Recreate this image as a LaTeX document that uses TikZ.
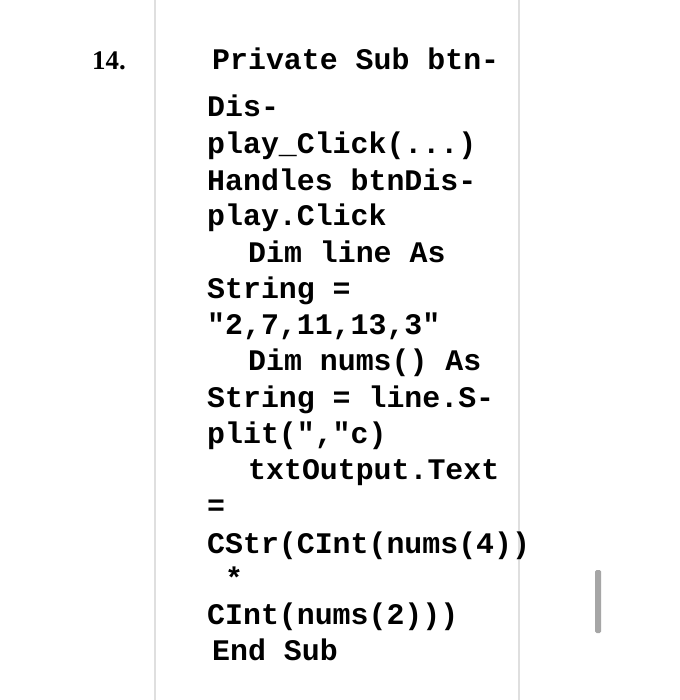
\documentclass[tikz,border=0pt]{standalone}
\usepackage{fontspec}
\setmonofont{Liberation Mono}
\setmainfont{Liberation Serif}
\begin{document}
\begin{tikzpicture}[x=1bp,y=-1bp,
  code/.style={anchor=base west,inner sep=0pt,font=\fontsize{30}{30}\selectfont\ttfamily\bfseries}]
\useasboundingbox (0,0) rectangle (680,700);
\fill[white] (0,0) rectangle (680,700);
\draw[gray!25,line width=1.5bp] (155,0) -- (155,700);
\draw[gray!25,line width=1.5bp] (519,0) -- (519,700);
\fill[gray!70,rounded corners=1.5bp] (595,570) rectangle (601,633);
\node[anchor=base west,inner sep=0pt,font=\fontsize{27}{27}\selectfont\bfseries] (n) at (92,70) {14.};
\node[code] (l1) at (212,70) {Private Sub btn-};
\node[code] (l2) at (207,117) {Dis-};
\node[code] (l3) at (207,153) {play\_Click(...)};
\node[code] (l4) at (207,190) {Handles btnDis-};
\node[code] (l5) at (207,225) {play.Click};
\node[code] (l6) at (248,262) {Dim line As};
\node[code] (l7) at (207,298) {String =};
\node[code] (l8) at (207,334) {"2,7,11,13,3"};
\node[code] (l9) at (248,370) {Dim nums() As};
\node[code] (l10) at (207,407) {String = line.S-};
\node[code] (l11) at (207,443) {plit(","c)};
\node[code] (l12) at (248,479) {txtOutput.Text};
\node[code] (l13) at (207,515) {=};
\node[code] (l14) at (207,553) {CStr(CInt(nums(4))};
\node[code] (l15) at (225,588) {*};
\node[code] (l16) at (207,624) {CInt(nums(2)))};
\node[code] (l17) at (212,660) {End Sub};
\end{tikzpicture}
\end{document}
